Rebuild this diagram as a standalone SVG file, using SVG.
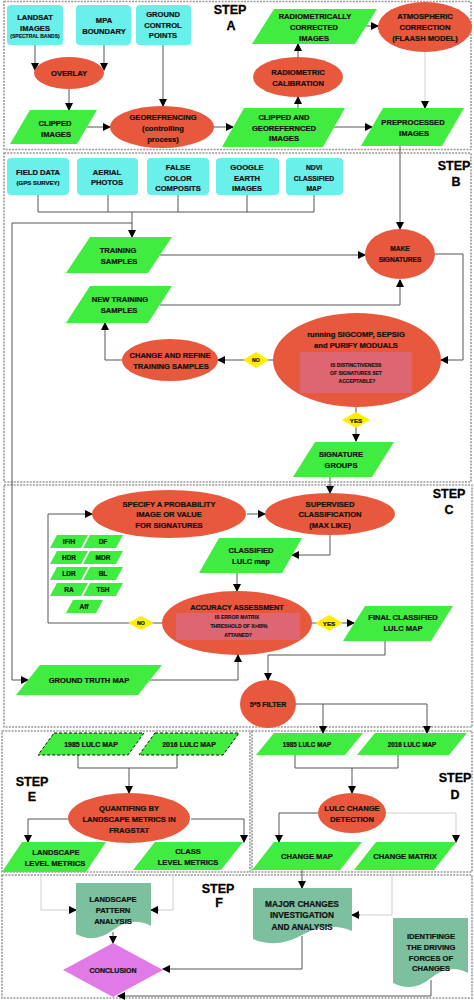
<svg xmlns="http://www.w3.org/2000/svg" width="474" height="1000" viewBox="0 0 474 1000">
<style>
text{font-family:"Liberation Sans",Arial,sans-serif;font-weight:bold;fill:#111;stroke:#111;stroke-width:0.22;text-anchor:middle;font-size:7.6px}
.sm{font-size:5px;stroke-width:0.12}
.st{font-size:12.5px;fill:#000;stroke:#000;stroke-width:0.3}
.box{fill:none;stroke:#9a9a9a;stroke-width:1.6;stroke-dasharray:2 1.2}
.cy{fill:#6af0ea}
.gr{fill:#40ec40}
.grd{fill:#40ec40;stroke:#111;stroke-width:1;stroke-dasharray:3 2}
.el{fill:#e8583d}
.in{fill:#dd6672}
.yl{fill:#ffee00}
.tl{fill:#7cc09f}
.mg{fill:#e07ae6}
.c{fill:none;stroke:#555;stroke-width:1;marker-end:url(#ah)}
.cn{fill:none;stroke:#555;stroke-width:1}
.lg{fill:none;stroke:#cfcfcf;stroke-width:1;marker-end:url(#ah)}
.lgn{fill:none;stroke:#cfcfcf;stroke-width:1}
</style>
<defs>
<marker id="ah" markerUnits="userSpaceOnUse" markerWidth="8" markerHeight="8" refX="7" refY="4" orient="auto">
<path d="M0,0 L8,4 L0,8 Z" fill="#000"/>
</marker>
</defs>
<rect width="474" height="1000" fill="#fff"/>
<g id="frames">
<rect class="box" x="4" y="1.5" width="467" height="148"/>
<rect class="box" x="4" y="153" width="467" height="329"/>
<rect class="box" x="4" y="485" width="468" height="242"/>
<rect class="box" x="2" y="731" width="248" height="141"/>
<rect class="box" x="252" y="731" width="220" height="141"/>
<rect class="box" x="2" y="875" width="470" height="123"/>
</g>
<g id="labels">
<text class="st" x="230" y="14">STEP</text><text class="st" x="231" y="30">A</text>
<text class="st" x="454" y="170">STEP</text><text class="st" x="456" y="186">B</text>
<text class="st" x="449" y="498">STEP</text><text class="st" x="449" y="514">C</text>
<text class="st" x="32" y="786">STEP</text><text class="st" x="32" y="801">E</text>
<text class="st" x="455" y="782">STEP</text><text class="st" x="455" y="799">D</text>
<text class="st" x="218" y="893">STEP</text><text class="st" x="219" y="907">F</text>
</g>
<g id="connectors">
<path class="c" d="M35 45 V70"/>
<path class="c" d="M104 45 V70"/>
<path class="c" d="M163 45 V106"/>
<path class="c" d="M69 89 V110"/>
<path class="c" d="M87 127 H110"/>
<path class="c" d="M214 127 H233"/>
<path class="c" d="M298 108 V97"/>
<path class="c" d="M298 57 V44"/>
<path class="c" d="M366 26 H378"/>
<path class="lg" d="M425 52 V108"/>
<path class="c" d="M334 127 H372"/>
<path class="c" d="M400 146 V229"/>
<path class="cn" d="M38 195 V212 H314 M108 195 V212 M178 195 V212 M247 195 V212 M314 195 V212"/>
<path class="c" d="M132 212 V237"/>
<path class="cn" d="M132 223 H12"/>
<path class="c" d="M12 223 V680 H28"/>
<path class="c" d="M160 255 H365"/>
<path class="c" d="M435 254 H463 V360 H441"/>
<path class="c" d="M160 305 H400 V280"/>
<path class="c" d="M273 360 H218"/>
<path class="c" d="M122 360 H105 V323"/>
<path class="c" d="M356 407 V441"/>
<path class="c" d="M330 477 V493"/>
<path class="c" d="M247 514 H265"/>
<path class="c" d="M162 623 H48 V514 H92"/>
<path class="c" d="M330 535 V555 H292"/>
<path class="c" d="M237 573 V591"/>
<path class="c" d="M312 623 H354"/>
<path class="c" d="M385 641 V655 H268 V680"/>
<path class="c" d="M150 680 H238 V655"/>
<path class="cn" d="M296 704 H427"/>
<path class="c" d="M323 704 V733"/>
<path class="c" d="M427 704 V733"/>
<path class="cn" d="M78 755 V768 H177 V755"/>
<path class="c" d="M129 768 V793"/>
<path class="c" d="M68 819 H28 V842"/>
<path class="c" d="M191 819 H244 V842"/>
<path class="cn" d="M295 755 V768 H398 V755"/>
<path class="c" d="M352 768 V793"/>
<path class="c" d="M318 813 H279 V842"/>
<path class="lgn" d="M386 813 H456 V836"/>
<path class="c" d="M456 835 V842"/>
<path class="c" d="M302 870 V888"/>
<path class="lgn" d="M41 872 V910 H70"/>
<path class="c" d="M69 910 H76"/>
<path class="lgn" d="M173 870 V910 H158"/>
<path class="c" d="M159 910 H151"/>
<path class="lgn" d="M392 870 V915 H359"/>
<path class="c" d="M360 915 H352"/>
<path class="c" d="M113 932 V943"/>
<path class="c" d="M302 936 V969 H163"/>
<path class="c" d="M431 980 V996 H118"/>
</g>
<g id="n_landsat"><rect class="cy" x="7" y="5" width="56" height="40" rx="4"/><text x="35" y="20">LANDSAT</text><text x="35" y="31">IMAGES</text><text class="sm" x="35" y="38">(SPECTRAL BANDS)</text></g>
<g id="n_mpa"><rect class="cy" x="76" y="5" width="55" height="40" rx="4"/><text x="104" y="23">MPA</text><text x="104" y="34">BOUNDARY</text></g>
<g id="n_gcp"><rect class="cy" x="136" y="5" width="55" height="40" rx="4"/><text x="163" y="17">GROUND</text><text x="163" y="28">CONTROL</text><text x="163" y="38">POINTS</text></g>
<g id="n_overlay"><ellipse class="el" cx="69" cy="73" rx="35" ry="16"/><text x="69" y="76">OVERLAY</text></g>
<g id="n_clipped"><polygon class="gr" points="30,110 97,110 77,144 10,144"/><text x="55" y="126">CLIPPED</text><text x="56" y="137">IMAGES</text></g>
<g id="n_georef"><ellipse class="el" cx="162" cy="127" rx="52" ry="21"/><text x="163" y="120">GEOREFRENCING</text><text x="163" y="131">(controlling</text><text x="163" y="142">process)</text></g>
<g id="n_clipgeo"><polygon class="gr" points="244,108 345,108 323,147 222,147" /><text x="284" y="120">CLIPPED AND</text><text x="284" y="131">GEOREFERNCED</text><text x="284" y="141">IMAGES</text></g>
<g id="n_preproc"><polygon class="gr" points="383,108 464,108 442,146 361,146"/><text x="413" y="125">PREPROCESSED</text><text x="414" y="136">IMAGES</text></g>
<g id="n_radcal"><ellipse class="el" cx="298" cy="77" rx="45" ry="20"/><text x="298" y="75">RADIOMETRIC</text><text x="298" y="86">CALIBRATION</text></g>
<g id="n_radcorr"><polygon class="gr" points="274,9 377,9 355,44 252,44"/><text x="315" y="19">RADIOMETRICALLY</text><text x="314" y="30">CORRECTED</text><text x="314" y="41">IMAGES</text></g>
<g id="n_atm"><ellipse class="el" cx="425" cy="27" rx="47" ry="25"/><text x="425" y="19">ATMOSPHERIC</text><text x="425" y="30">CORRECTION</text><text x="425" y="41">(FLAASH MODEL)</text></g>
<g id="n_field"><rect class="cy" x="7" y="158" width="62" height="37" rx="4"/><text x="38" y="175">FIELD DATA</text><text x="38" y="185" style="font-size:6px">(GPS SURVEY)</text></g>
<g id="n_aerial"><rect class="cy" x="77" y="158" width="61" height="37" rx="4"/><text x="107" y="175">AERIAL</text><text x="107" y="185">PHOTOS</text></g>
<g id="n_false"><rect class="cy" x="147" y="158" width="62" height="37" rx="4"/><text x="178" y="170">FALSE</text><text x="178" y="181">COLOR</text><text x="178" y="191">COMPOSITS</text></g>
<g id="n_google"><rect class="cy" x="216" y="158" width="63" height="37" rx="4"/><text x="247" y="170">GOOGLE</text><text x="247" y="181">EARTH</text><text x="247" y="191">IMAGES</text></g>
<g id="n_ndvi"><rect class="cy" x="286" y="158" width="57" height="37" rx="4"/><text x="314" y="170" style="font-size:6.8px">NDVI</text><text x="314" y="181" style="font-size:6.8px">CLASSIFIED</text><text x="314" y="191" style="font-size:6.8px">MAP</text></g>
<g id="n_training"><polygon class="gr" points="90,237 172,237 148,273 66,273"/><text x="118" y="253">TRAINING</text><text x="119" y="264">SAMPLES</text></g>
<g id="n_makesig"><ellipse class="el" cx="400" cy="254" rx="35" ry="25"/><text x="400" y="251" style="font-size:6.6px">MAKE</text><text x="400" y="262" style="font-size:6.6px">SIGNATURES</text></g>
<g id="n_newtrain"><polygon class="gr" points="90,286 172,286 148,323 66,323"/><text x="120" y="302">NEW TRAINING</text><text x="119" y="313">SAMPLES</text></g>
<g id="n_refine"><ellipse class="el" cx="170" cy="360" rx="48" ry="21"/><text x="170" y="358">CHANGE AND REFINE</text><text x="171" y="369">TRAINING SAMPLES</text></g>
<g id="n_running"><ellipse class="el" cx="357" cy="360" rx="84" ry="47"/><rect class="in" x="300" y="352" width="112" height="41"/><text x="356" y="337">running SIGCOMP, SEPSIG</text><text x="356" y="348">and PURIFY MODUALS</text><text class="sm" x="356" y="367">IS DISTINCTIVENESS</text><text class="sm" x="356" y="375">OF SIGNATURES SET</text><text class="sm" x="357" y="383">ACCEPTABLE?</text></g>
<g id="n_no1"><polygon class="yl" points="243,360 256,352 269,360 256,368"/><text x="256" y="362" style="font-size:5.2px">NO</text></g>
<g id="n_yes1"><polygon class="yl" points="342,420 356,412 370,420 356,428"/><text x="356" y="422.5" style="font-size:6.2px">YES</text></g>
<g id="n_siggroups"><polygon class="gr" points="315,442 394,442 372,477 293,477"/><text x="341" y="457">SIGNATURE</text><text x="341" y="468">GROUPS</text></g>
<g id="n_specify"><ellipse class="el" cx="169" cy="514" rx="77" ry="24"/><text x="169" y="507">SPECIFY A PROBABILITY</text><text x="169" y="517">IMAGE OR VALUE</text><text x="169" y="528">FOR SIGNATURES</text></g>
<g id="n_supervised"><ellipse class="el" cx="330" cy="514" rx="65" ry="21"/><text x="330" y="507">SUPERVISED</text><text x="330" y="517">CLASSIFICATION</text><text x="330" y="528">(MAX LIKE)</text></g>
<g id="n_indices">
<polygon class="gr" points="57,535 88,535 81,548 50,548"/><text x="69" y="544" style="font-size:6.5px">IF/H</text>
<polygon class="gr" points="90,535 123,535 116,548 83,548"/><text x="103" y="544" style="font-size:6.5px">DF</text>
<polygon class="gr" points="57,551 88,551 81,564 50,564"/><text x="69" y="560" style="font-size:6.5px">HDR</text>
<polygon class="gr" points="90,551 123,551 116,564 83,564"/><text x="103" y="560" style="font-size:6.5px">MDR</text>
<polygon class="gr" points="57,567 88,567 81,580 50,580"/><text x="69" y="576" style="font-size:6.5px">LDR</text>
<polygon class="gr" points="90,567 123,567 116,580 83,580"/><text x="103" y="576" style="font-size:6.5px">BL</text>
<polygon class="gr" points="57,583 88,583 81,596 50,596"/><text x="69" y="592" style="font-size:6.5px">RA</text>
<polygon class="gr" points="90,583 123,583 116,596 83,596"/><text x="103" y="592" style="font-size:6.5px">TSH</text>
<polygon class="gr" points="73,600 103,600 96,613 66,613"/><text x="84" y="609" style="font-size:6.5px">Aff</text>
</g>
<g id="n_classified"><polygon class="gr" points="219,538 302,538 282,573 199,573"/><text x="251" y="553">CLASSIFIED</text><text x="251" y="564">LULC map</text></g>
<g id="n_accuracy"><ellipse class="el" cx="237" cy="623" rx="75" ry="32"/><rect class="in" x="176" y="613" width="124" height="27"/><text x="237" y="610" style="font-size:7.3px">ACCURACY ASSESSMENT</text><text class="sm" x="237" y="619">IS ERROR MATRIX</text><text class="sm" x="239" y="628">THRESHOLD OF X&gt;85%</text><text class="sm" x="238" y="637">ATTAINED?</text></g>
<g id="n_no2"><polygon class="yl" points="128,623 141,616 154,623 141,630"/><text x="141" y="625" style="font-size:5.2px">NO</text></g>
<g id="n_yes2"><polygon class="yl" points="315,623 329,615 343,623 329,631"/><text x="329" y="625.5" style="font-size:6.2px">YES</text></g>
<g id="n_final"><polygon class="gr" points="365,606 453,606 431,641 343,641"/><text x="403" y="620">FINAL CLASSIFIED</text><text x="403" y="631">LULC MAP</text></g>
<g id="n_ground"><polygon class="gr" points="40,665 162,665 138,695 16,695"/><text x="89" y="683">GROUND TRUTH MAP</text></g>
<g id="n_filter"><ellipse class="el" cx="268" cy="704" rx="28" ry="24"/><text x="268" y="706.5" style="font-size:7px">5*5 FILTER</text></g>
<g id="n_e1985"><polygon class="grd" points="54,733 144,733 128,755 38,755"/><text x="91" y="747" style="font-size:7px">1985 LULC MAP</text></g>
<g id="n_e2016"><polygon class="grd" points="155,733 239,733 223,755 139,755"/><text x="189" y="747" style="font-size:7px">2016 LULC MAP</text></g>
<g id="n_quant"><ellipse class="el" cx="129" cy="818" rx="61" ry="25"/><text x="129" y="811">QUANTIFING BY</text><text x="129" y="822">LANDSCAPE METRICS IN</text><text x="129" y="833">FRAGSTAT</text></g>
<g id="n_landlevel"><polygon class="gr" points="22,842 106,842 86,872 2,872"/><text x="56" y="855">LANDSCAPE</text><text x="55" y="866">LEVEL METRICS</text></g>
<g id="n_classlevel"><polygon class="gr" points="155,842 243,842 221,870 133,870"/><text x="188" y="854">CLASS</text><text x="188" y="865">LEVEL METRICS</text></g>
<g id="n_d1985"><polygon class="gr" points="274,733 363,733 345,755 256,755"/><text x="307" y="746.5" style="font-size:6.3px">1985 LULC MAP</text></g>
<g id="n_d2016"><polygon class="gr" points="375,733 467,733 449,755 357,755"/><text x="412" y="746.5" style="font-size:6.3px">2016 LULC MAP</text></g>
<g id="n_lulcchange"><ellipse class="el" cx="352" cy="813" rx="34" ry="20"/><text x="352" y="811">LULC CHANGE</text><text x="352" y="822">DETECTION</text></g>
<g id="n_changemap"><polygon class="gr" points="274,842 362,842 340,870 252,870"/><text x="307" y="859">CHANGE MAP</text></g>
<g id="n_changematrix"><polygon class="gr" points="376,842 456,842 434,870 354,870"/><text x="405" y="859">CHANGE MATRIX</text></g>
<g id="n_pattern"><path class="tl" d="M76 883 H151 V926 Q132 916 113 930 T76 934 Z"/><text x="113" y="902">LANDSCAPE</text><text x="113" y="913">PATTERN</text><text x="113" y="924">ANALYSIS</text></g>
<g id="n_major"><path class="tl" d="M253 888 H352 V931 Q327 921 302 935 T253 939 Z"/><text x="302" y="907" style="font-size:8.3px">MAJOR CHANGES</text><text x="302" y="918" style="font-size:8.3px">INVESTIGATION</text><text x="302" y="930" style="font-size:8.3px">AND ANALYSIS</text></g>
<g id="n_identify"><path class="tl" d="M393 918 H468 V973 Q449 963 431 978 T393 983 Z"/><text x="431" y="939">IDENTIFINGE</text><text x="431" y="950">THE DRIVING</text><text x="431" y="961">FORCES OF</text><text x="431" y="971">CHANGES</text></g>
<g id="n_conclusion"><polygon class="mg" points="113,943 163,970 113,997 63,970"/><text x="113" y="972.5" style="font-size:7px">CONCLUSION</text></g>
</svg>
